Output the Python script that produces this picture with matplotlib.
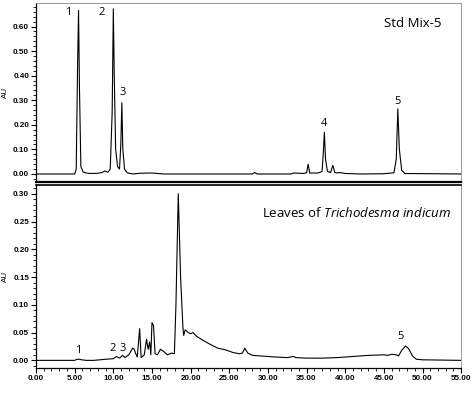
import numpy as np
import matplotlib
matplotlib.use("Agg")
import matplotlib.pyplot as plt
from matplotlib.ticker import MultipleLocator, FormatStrFormatter

plt.rcParams['mathtext.fontset'] = 'custom'
plt.rcParams['mathtext.rm'] = 'Open Sans'
plt.rcParams['mathtext.it'] = 'Open Sans:italic'

#%% data (retention time in min, absorbance in AU)
std_time = [0.0, 5.0, 5.2, 5.38, 5.5, 5.62, 5.8, 6.1, 6.6, 7.2, 8.0, 8.5, 8.9, 9.3,
            9.6, 9.85, 10.0, 10.12, 10.3, 10.55, 10.8, 10.97, 11.1, 11.23, 11.45, 11.8,
            12.5, 13.5, 15.0, 16.5, 28.0, 28.3, 28.6, 33.0, 33.3, 34.6, 35.0, 35.2, 35.4,
            36.5, 37.0, 37.15, 37.3, 37.45, 37.7, 38.1, 38.4, 38.65, 39.0, 39.3, 40.0,
            42.0, 45.0, 46.3, 46.6, 46.8, 47.0, 47.3, 47.7, 55.0]
std_au = [0.0, 0.0, 0.02, 0.45, 0.665, 0.35, 0.03, 0.008, 0.003, 0.002, 0.003, 0.006,
          0.012, 0.007, 0.02, 0.25, 0.672, 0.4, 0.1, 0.03, 0.02, 0.12, 0.29, 0.1, 0.02,
          0.005, 0.0, 0.003, 0.004, 0.0, 0.0, 0.006, 0.0, 0.0, 0.004, 0.002, 0.005, 0.04,
          0.004, 0.004, 0.01, 0.08, 0.17, 0.06, 0.01, 0.006, 0.035, 0.006, 0.004, 0.006,
          0.002, 0.0, 0.001, 0.005, 0.06, 0.265, 0.1, 0.015, 0.002, 0.0]

leaf_time = [0.0, 5.0, 5.3, 5.6, 5.9, 6.5, 7.5, 9.0, 10.0, 10.4, 10.8, 11.2, 11.5, 12.0,
             12.5, 12.7, 12.9, 13.1, 13.4, 13.6, 14.0, 14.3, 14.5, 14.7, 14.85, 15.0,
             15.2, 15.4, 15.7, 16.1, 16.5, 17.0, 17.5, 17.9, 18.1, 18.4, 18.7, 19.0,
             19.1, 19.3, 19.7, 20.0, 20.3, 20.8, 21.5, 22.5, 23.5, 24.5, 25.5, 26.3,
             26.7, 27.0, 27.4, 28.0, 29.0, 30.0, 31.0, 32.5, 33.3, 33.6, 35.0, 37.0,
             39.0, 41.0, 43.0, 45.0, 45.5, 46.0, 46.6, 46.9, 47.3, 47.8, 48.2, 48.7,
             49.2, 50.0, 55.0]
leaf_au = [0.0, 0.0, 0.002, 0.002, 0.001, 0.0, 0.0, 0.002, 0.003, 0.007, 0.004, 0.009,
           0.005, 0.01, 0.022, 0.02, 0.012, 0.006, 0.057, 0.005, 0.01, 0.038, 0.02,
           0.033, 0.01, 0.068, 0.062, 0.012, 0.01, 0.02, 0.016, 0.01, 0.013, 0.012, 0.1,
           0.30, 0.15, 0.06, 0.045, 0.055, 0.05, 0.048, 0.05, 0.043, 0.037, 0.029, 0.022,
           0.019, 0.014, 0.012, 0.013, 0.022, 0.013, 0.009, 0.008, 0.007, 0.006, 0.005,
           0.007, 0.005, 0.004, 0.004, 0.005, 0.007, 0.009, 0.01, 0.009, 0.011, 0.01,
           0.008, 0.018, 0.026, 0.021, 0.008, 0.002, 0.001, 0.0]

std_peaks = ['1', '2', '3', '4', '5']
std_peak_pos = [(4.1, 0.655), (8.5, 0.655), (11.2, 0.33), (37.3, 0.205), (46.7, 0.295)]
leaf_peaks = ['1', '2', '3', '5']
leaf_peak_pos = [(5.4, 0.018), (9.9, 0.022), (11.25, 0.022), (47.1, 0.043)]

#%%
fig = plt.figure(figsize=(4.74, 3.95), dpi=100)
ax1 = fig.add_axes([0.076, 0.539, 0.897, 0.453])
ax2 = fig.add_axes([0.076, 0.068, 0.897, 0.464])

ax1.plot(std_time, std_au, color='black', lw=0.8)
ax2.plot(leaf_time, leaf_au, color='black', lw=0.8)

ax1.set_xlim(0, 55)
ax2.set_xlim(0, 55)
ax1.set_ylim(-0.033, 0.695)
ax2.set_ylim(-0.014, 0.316)

ax1.yaxis.set_major_locator(MultipleLocator(0.1))
ax1.yaxis.set_minor_locator(MultipleLocator(0.02))
ax2.yaxis.set_major_locator(MultipleLocator(0.05))
ax2.yaxis.set_minor_locator(MultipleLocator(0.01))
ax2.xaxis.set_major_locator(MultipleLocator(5))
ax2.xaxis.set_minor_locator(MultipleLocator(1))
for ax in (ax1, ax2):
    ax.yaxis.set_major_formatter(FormatStrFormatter('%.2f'))
    ax.tick_params(which='major', length=3.5, width=0.8, labelsize=5.8, pad=1.5)
    ax.tick_params(which='minor', length=2, width=0.6)
    for lab in ax.get_yticklabels():
        lab.set_fontweight('bold')
        lab.set_family('Liberation Sans')
    ax.set_ylabel('AU', fontsize=5.8, family='Liberation Sans', labelpad=3)
    ax.spines['left'].set_linewidth(0.9)
    ax.spines['top'].set_color('#999999')
    ax.spines['right'].set_color('#999999')
    ax.spines['top'].set_linewidth(0.7)
    ax.spines['right'].set_linewidth(0.7)

ax2.xaxis.set_major_formatter(FormatStrFormatter('%.2f'))
for lab in ax2.get_xticklabels():
    lab.set_fontweight('bold')
    lab.set_family('Liberation Sans')
ax1.tick_params(axis='x', which='both', bottom=False, labelbottom=False)
ax1.spines['bottom'].set_linewidth(1.6)
ax2.spines['top'].set_color('black')
ax2.spines['top'].set_linewidth(1.2)
ax2.spines['bottom'].set_linewidth(0.9)

for name, (x, y) in zip(std_peaks, std_peak_pos):
    ax1.text(x, y, name, ha='center', va='center', fontsize=8, family='Open Sans')
for name, (x, y) in zip(leaf_peaks, leaf_peak_pos):
    ax2.text(x, y, name, ha='center', va='center', fontsize=8, family='Open Sans')

ax1.text(0.885, 0.888, 'Std Mix-5', transform=ax1.transAxes, ha='center', va='center',
         fontsize=9.5, family='Open Sans')
ax2.text(0.753, 0.847, r'Leaves of $\mathit{Trichodesma\ indicum}$', transform=ax2.transAxes,
         ha='center', va='center', fontsize=9.5, family='Open Sans')

plt.savefig('out.png', dpi=100)
